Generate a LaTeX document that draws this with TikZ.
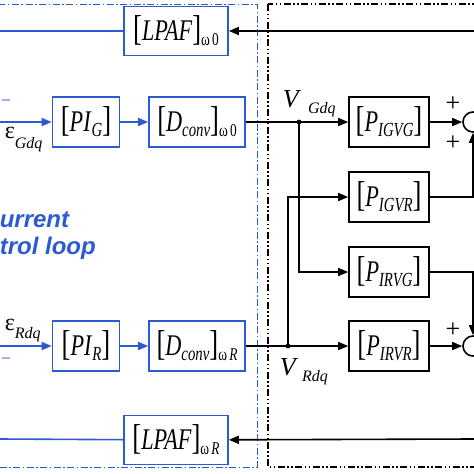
\documentclass[tikz,border=0pt]{standalone}
\usepackage{graphicx}
\usepackage{fontspec}
\setmainfont{Liberation Serif}
\newfontfamily\loopfont{Liberation Sans}
\usetikzlibrary{arrows.meta}
\definecolor{loopblue}{RGB}{45,90,210}

% block text: narrow, tall brackets, lowered subscripts
\newcommand{\blocktext}[1]{\scalebox{0.74}[1]{\fontsize{30}{30}\selectfont #1}}
\newcommand{\brk}[1]{{\fontsize{36}{36}\selectfont[}#1{\fontsize{36}{36}\selectfont]}}
\newcommand{\lsub}[1]{\raisebox{-5pt}{\fontsize{20}{20}\selectfont\itshape #1}}
\newcommand{\wsub}[1]{\raisebox{-5pt}{\fontsize{18}{18}\selectfont #1}}
% signal label: big letter, lowered subscript
\newcommand{\sig}[4]{{\fontsize{#1}{#1}\selectfont #2}\raisebox{-#4}{\fontsize{16}{16}\selectfont\itshape #3}}

\begin{document}
\begin{tikzpicture}[x=1pt, y=-1pt, >={Triangle[length=10pt,width=8pt]}, line width=1.6pt,
    blubox/.style={draw=loopblue, line width=1.6pt, minimum height=50pt, inner sep=0pt},
    blkbox/.style={draw=black, line width=1.6pt, minimum width=80pt, minimum height=50pt, inner sep=0pt},
    bluline/.style={draw=loopblue, line width=1.6pt},
    sumnode/.style={draw, circle, line width=1.6pt, minimum size=20pt, inner sep=0pt},
    sign/.style={font=\fontsize{26}{26}\selectfont, inner sep=0pt}]
    \clip (0,0) rectangle (474,474);

    % loop frames
    \draw[loopblue, line width=1pt, dash pattern=on 7pt off 2.5pt on 1.5pt off 2.5pt] (-10,4) rectangle (257,467);
    \draw[black, line width=1.5pt, dash pattern=on 7pt off 2.5pt on 1.5pt off 2.5pt on 1.5pt off 2.5pt] (268,4) rectangle (490,467);

    \node[anchor=west, align=left, text=loopblue, font=\loopfont\bfseries\itshape\fontsize{24}{27}\selectfont, inner sep=0pt] (title) at (-1,236) {urrent\\trol loop};

    % blocks
    \node[blubox, minimum width=104pt, minimum height=49pt] (lpafG) at (176,31) {\blocktext{\brk{\textit{LPAF}}\wsub{ω\,0}}};
    \node[blubox, minimum width=67pt] (piG) at (86,122) {\blocktext{\brk{\textit{PI}\lsub{G}}}};
    \node[blubox, minimum width=96pt] (dG) at (197,122) {\blocktext{\brk{\textit{D}\lsub{conv}}\wsub{ω\,0}}};
    \node[blkbox] (pGG) at (389,122) {\blocktext{\brk{\textit{P}\lsub{IGVG}}}};
    \node[blkbox] (pGR) at (389,197) {\blocktext{\brk{\textit{P}\lsub{IGVR}}}};
    \node[blkbox] (pRG) at (389,272) {\blocktext{\brk{\textit{P}\lsub{IRVG}}}};
    \node[blkbox] (pRR) at (389,346) {\blocktext{\brk{\textit{P}\lsub{IRVR}}}};
    \node[blubox, minimum width=67pt] (piR) at (86,346) {\blocktext{\brk{\textit{PI}\lsub{R}}}};
    \node[blubox, minimum width=96pt] (dR) at (197,346) {\blocktext{\brk{\textit{D}\lsub{conv}}\wsub{ω\,\textit{R}}}};
    \node[blubox, minimum width=104pt, minimum height=49pt] (lpafR) at (176,440) {\blocktext{\brk{\textit{LPAF}}\wsub{ω\,\textit{R}}}};
    \node[sumnode] (sumG) at (473,122) {};
    \node[sumnode] (sumR) at (473,346) {};

    \coordinate (fbG) at (0,31);
    \coordinate (outG) at (474,31);
    \coordinate (inG) at (0,122);
    \coordinate (inR) at (0,346);
    \coordinate (fbR) at (0,439);
    \coordinate (outR) at (474,439);
    \coordinate (jG) at (299,122);
    \coordinate (jR) at (288,346);

    % connectors
    \draw[bluline] (fbG) -- (lpafG);
    \draw[->] (outG) -- (lpafG);
    \draw[bluline, ->] (inG) -- (piG);
    \draw[bluline, ->] (piG) -- (dG);
    \draw[->] (dG) -- (pGG);
    \draw[->] (pGG) -- (sumG);
    \draw[->] (pGR.east) -| (sumG.south);
    \draw[->] (jG) |- (pRG.west);
    \draw[->] (jR) |- (pGR.west);
    \draw[->] (pRG.east) -| (sumR.north);
    \draw[bluline, ->] (inR) -- (piR);
    \draw[bluline, ->] (piR) -- (dR);
    \draw[->] (dR) -- (pRR);
    \draw[->] (pRR) -- (sumR);
    \draw[bluline] (fbR) -- (lpafR);
    \draw[->] (outR) -- (lpafR);
    \fill (jG) circle (2.4pt);
    \fill (jR) circle (2.4pt);

    % labels
    \node[anchor=base west, inner sep=0pt] (vG) at (282,107) {\sig{26}{\textit{V}\hspace{7pt}}{Gdq}{6pt}};
    \node[anchor=base west, inner sep=0pt] (vR) at (279,375) {\sig{26}{\textit{V}\hspace{4pt}}{Rdq}{6pt}};
    \node[anchor=base west, inner sep=0pt] (eG) at (4,138) {\sig{24}{ε}{Gdq}{10pt}};
    \node[anchor=base west, inner sep=0pt] (eR) at (4,330) {\sig{24}{ε}{Rdq}{8pt}};
    \node[sign, text=loopblue, anchor=west, font=\fontsize{18}{18}\selectfont] (mG) at (0,103) {−};
    \node[sign, text=loopblue, anchor=west, font=\fontsize{18}{18}\selectfont] (mR) at (0,361) {−};
    \node[sign] (pA) at (453,104) {+};
    \node[sign] (pB) at (453,143) {+};
    \node[sign] (pC) at (453,330) {+};
\end{tikzpicture}
\end{document}
